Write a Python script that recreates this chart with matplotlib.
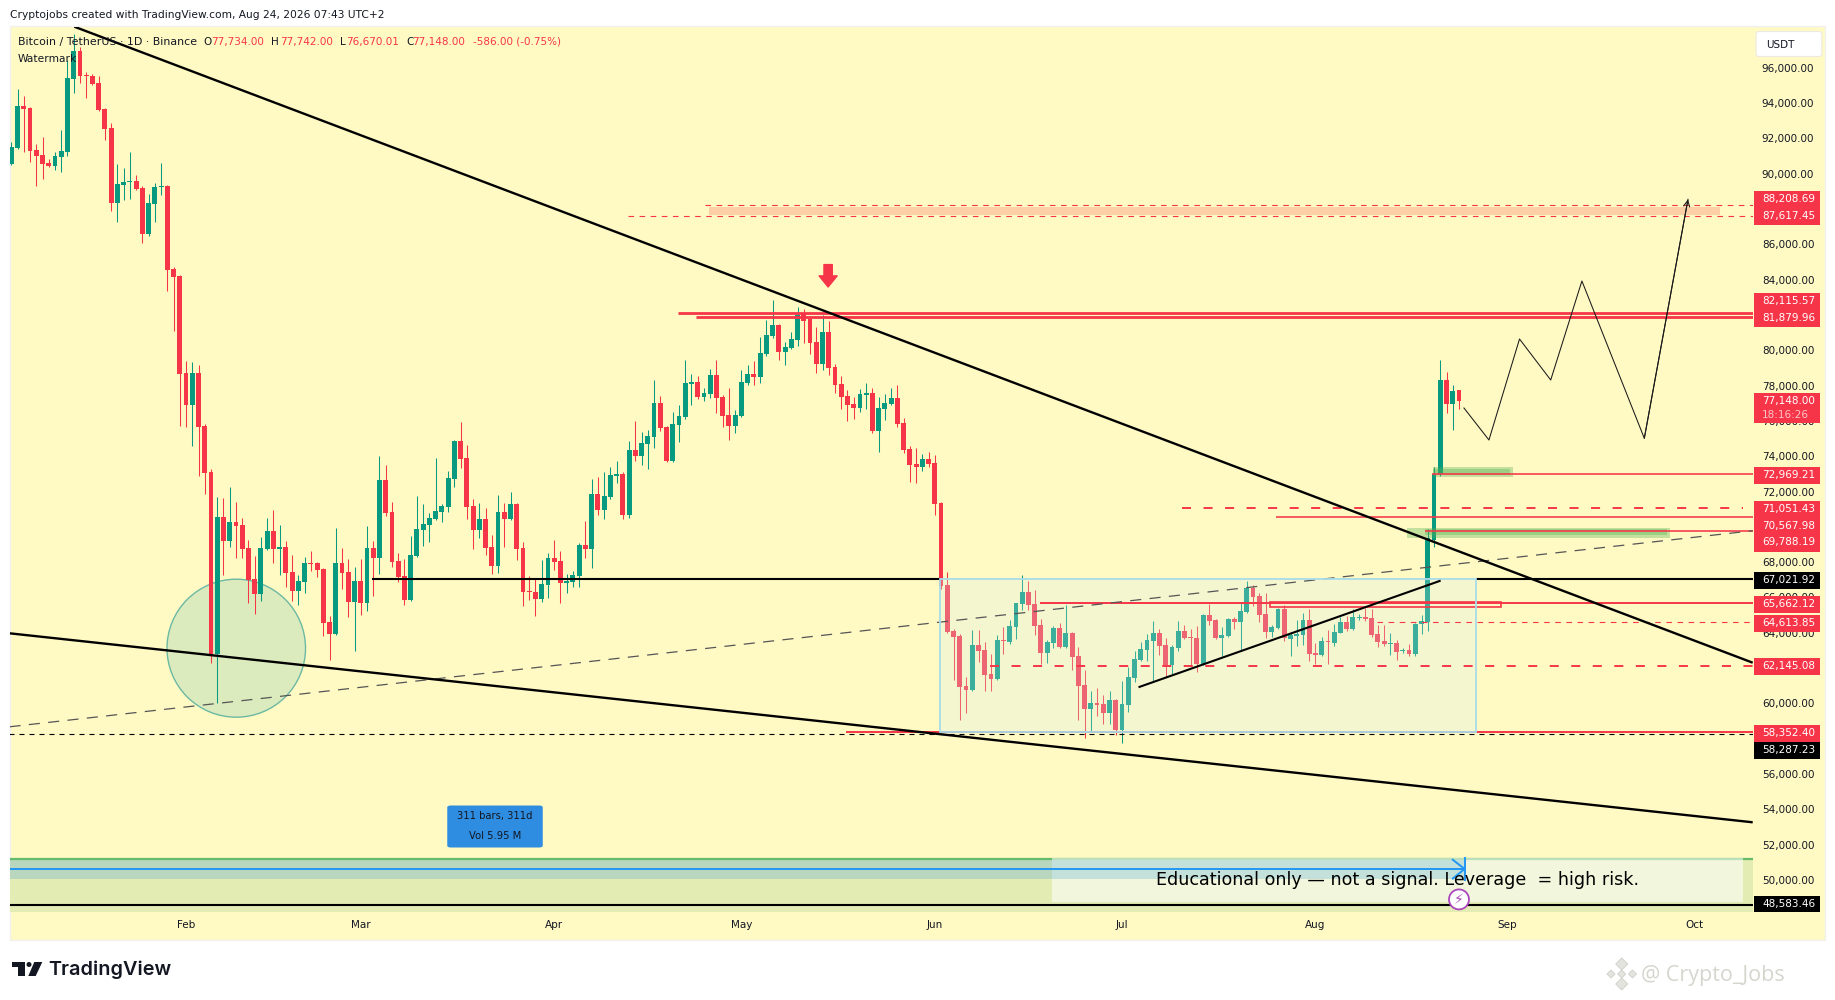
import numpy as np
import matplotlib
matplotlib.use("Agg")
import matplotlib.pyplot as plt
from matplotlib.patches import Rectangle, Ellipse, FancyBboxPatch, Polygon
from matplotlib.collections import LineCollection

# daily candles, day 0 = Jan 1
days = np.arange(3, 236)
opens = [
    90562, 91469, 93829, 93715, 91337, 91054, 90600, 90430, 90940, 91223,
    95358, 96944, 95585, 95528, 95132, 93659, 92583, 88335, 89355, 89524,
    89581, 89185, 86579, 88278, 89241, 89298, 84597, 84200, 78711, 76898,
    78711, 75709, 73104, 62795, 70555, 69195, 70272, 70102, 68799, 67043,
    66193, 68742, 69762, 68742, 68855, 67440, 66364, 66873, 67950, 67950,
    67609, 64608, 63928, 67950, 67440, 65740, 66930, 65684, 68799, 68233,
    72650, 70838, 68063, 67213, 65854, 68346, 69819, 70102, 70441, 70838,
    71121, 72707, 74859, 73896, 71178, 69819, 70441, 68855, 67779, 70838,
    70441, 71291, 68799, 66364, 66307, 65910, 66703, 68233, 68063, 66817,
    66873, 67213, 68969, 68742, 71857, 70951, 71687, 72877, 72989, 70667,
    74348, 74008, 74688, 75084, 77010, 75651, 73725, 75764, 76217, 78086,
    78200, 77350, 77520, 78596, 77350, 76331, 75708, 76274, 78143, 78653,
    78483, 79786, 80805, 81428, 79899, 80125, 80579, 82089, 81768, 80465,
    79219, 81032, 79049, 78086, 77407, 76954, 76727, 77463, 77577, 75424,
    76670, 76954, 77293, 75877, 74405, 73555, 73385, 73838, 73612, 71346,
    66705, 64118, 63816, 60984, 60758, 63307, 63023, 61664, 61381, 63590,
    63477, 64326, 65629, 66309, 65629, 64439, 62853, 63420, 64269, 63193,
    63986, 62683, 61041, 59682, 60021, 59965, 59455, 60191, 58492, 59908,
    61438, 62457, 63023, 63533, 63986, 63307, 62174, 63137, 64099, 63741,
    63703, 62230, 65006, 64723, 63703, 63816, 64779, 64609, 65176, 66554,
    66082, 65063, 64043, 64269, 65346, 63647, 63816, 63873, 64723, 62853,
    62740, 63533, 63420, 63986, 64609, 64213, 64836, 64893, 64836, 63930,
    63533, 63363, 63420, 62967, 63023, 62797, 64496, 64609, 69252, 72990,
    78314, 76955, 77734,
]
highs = [
    91771, 94773, 94395, 93800, 91677, 92073, 90808, 91242, 92469, 96434,
    97888, 97189, 95773, 95641, 95528, 93700, 92866, 90544, 90317, 91223,
    89921, 89298, 88845, 89468, 90600, 89350, 84730, 84238, 79391, 79334,
    79164, 75800, 73273, 71687, 71631, 72254, 71404, 70498, 69252, 68346,
    69422, 70498, 70951, 70102, 69195, 68402, 67270, 68289, 68629, 67990,
    67650, 64947, 69932, 68799, 68176, 67723, 68176, 70045, 69195, 74010,
    73500, 71404, 68516, 68176, 69478, 71744, 71291, 70781, 73896, 71291,
    73160, 74900, 75936, 74633, 71574, 71348, 71064, 69535, 71801, 71348,
    71971, 71350, 69139, 67213, 67100, 68119, 68516, 69252, 68629, 67326,
    67496, 69082, 70328, 72707, 72820, 73104, 73387, 73726, 73102, 74858,
    75991, 75368, 75481, 78313, 77407, 75700, 76500, 76897, 79446, 78653,
    78540, 77860, 78936, 79446, 77463, 77860, 76614, 78880, 79163, 79389,
    80749, 81711, 82844, 81470, 80465, 81032, 82448, 82334, 81900, 81315,
    81995, 81655, 79219, 78540, 77747, 77350, 77803, 78143, 77860, 77350,
    77520, 77860, 78030, 76161, 74575, 74461, 74122, 74235, 74065, 71400,
    67422, 64200, 63930, 61494, 64156, 64156, 63477, 62797, 63873, 64326,
    64723, 65700, 67271, 66932, 66422, 64779, 63590, 64383, 64553, 65572,
    64030, 63175, 61890, 60701, 60871, 60475, 60701, 60248, 61268, 62060,
    62967, 63477, 63930, 64666, 64213, 63703, 63300, 64666, 64439, 64213,
    64383, 65063, 65629, 64780, 64326, 64836, 64893, 65742, 66932, 66705,
    66252, 66252, 64439, 65402, 65572, 64062, 64723, 65119, 65346, 63401,
    63760, 64156, 64496, 64893, 64949, 65346, 65063, 65421, 65346, 64439,
    64439, 63986, 63590, 63137, 63363, 64533, 65006, 69894, 73387, 79447,
    78767, 78031, 77742,
]
lows = [
    90500, 91400, 91223, 90657, 89316, 89694, 90393, 90204, 90090, 90997,
    94565, 95132, 94282, 95018, 93560, 91903, 87882, 87259, 88505, 88562,
    89100, 86069, 86465, 87259, 88788, 83350, 81085, 75709, 75652, 74576,
    72877, 71857, 62285, 60000, 67270, 68856, 68233, 68233, 65684, 65061,
    65797, 68686, 67950, 67270, 66590, 65797, 65571, 66250, 67496, 67156,
    63815, 62455, 63871, 66477, 64891, 62965, 65004, 65231, 66080, 67326,
    70611, 67723, 66873, 65571, 65797, 68300, 68912, 69139, 70385, 70272,
    70838, 72254, 73330, 70441, 68742, 69365, 68400, 67326, 67383, 68856,
    70385, 68119, 65514, 65854, 64947, 65740, 65967, 67553, 65684, 66250,
    66590, 66590, 68233, 67667, 70668, 70441, 71600, 72480, 70440, 70497,
    73725, 73498, 73272, 74461, 75424, 73680, 73669, 74801, 76104, 76897,
    77237, 77124, 77293, 76444, 75651, 74915, 75311, 76230, 78030, 78030,
    78143, 79700, 80692, 79446, 79163, 80069, 80239, 80409, 79786, 78709,
    78879, 78596, 77577, 76670, 75991, 76104, 76501, 76670, 75311, 74235,
    76047, 76897, 75651, 74178, 72536, 72479, 73159, 73385, 70667, 66500,
    64000, 61324, 59059, 59455, 60701, 62344, 60701, 60701, 61340, 62797,
    63363, 63647, 65289, 65289, 63873, 62230, 62287, 63137, 63150, 63150,
    61890, 59059, 58039, 58435, 59285, 58832, 58832, 58209, 57756, 59512,
    61211, 62400, 62400, 61268, 62740, 61494, 61664, 62967, 63650, 62117,
    61777, 62174, 64439, 63650, 62627, 63780, 64213, 63023, 65119, 65516,
    64609, 63703, 63760, 64213, 63533, 62683, 63250, 63307, 62400, 62230,
    62700, 62230, 63250, 63960, 64100, 64156, 64723, 64666, 63760, 63193,
    63250, 62740, 62457, 62853, 62683, 62683, 63930, 64097, 68874, 72900,
    76445, 75482, 76670,
]
closes = [
    91506, 93829, 93659, 91261, 90997, 90544, 90430, 90997, 91280, 95415,
    96944, 95528, 95528, 95075, 93602, 92526, 88335, 89411, 89524, 89581,
    89128, 86579, 88335, 89241, 89298, 84540, 84143, 78673, 76898, 78711,
    75652, 73047, 62795, 70555, 69195, 70272, 70045, 68742, 66986, 66193,
    68799, 69762, 68742, 68855, 67383, 66364, 66930, 67950, 67893, 67553,
    64551, 63928, 67950, 67383, 65740, 66930, 65684, 68799, 68233, 72650,
    70781, 68006, 67156, 65854, 68402, 69875, 70158, 70498, 70894, 71178,
    72764, 74859, 73840, 71121, 69819, 70441, 68799, 67779, 70838, 70441,
    71291, 68742, 66307, 66307, 65910, 66760, 68233, 68006, 66817, 66930,
    67270, 68969, 68742, 71857, 70951, 71744, 72933, 72990, 70667, 74348,
    74008, 74745, 75141, 77010, 75594, 73725, 75821, 76274, 78143, 78200,
    77350, 77577, 78596, 77293, 76274, 75708, 76331, 78200, 78653, 78483,
    79842, 80862, 81428, 79899, 80182, 80635, 81995, 81655, 80409, 79219,
    81032, 78993, 78030, 77350, 76897, 76727, 77520, 77577, 75424, 76727,
    77010, 77293, 75821, 74348, 73499, 73385, 73838, 73555, 71290, 66645,
    64062, 63779, 60947, 60758, 63307, 62967, 61607, 61381, 63590, 63533,
    64383, 65685, 66309, 65572, 64383, 62853, 63477, 64269, 63193, 63986,
    62627, 60984, 59682, 60021, 59908, 59455, 60191, 58492, 59965, 61494,
    62514, 63080, 63590, 63986, 63250, 62174, 63193, 64099, 63703, 63685,
    62230, 65006, 64666, 63703, 63873, 64779, 64609, 65232, 66554, 66025,
    65006, 64043, 64326, 65346, 63703, 63873, 63930, 64723, 62797, 62740,
    63533, 63477, 64043, 64609, 64213, 64893, 64893, 64779, 63873, 63477,
    63363, 63420, 62910, 63023, 62797, 64496, 64666, 69346, 72990, 78314,
    76955, 77691, 77148,
]

month_days = [31, 59, 90, 120, 151, 181, 212, 242.7, 272.7]
month_names = ["Feb", "Mar", "Apr", "May", "Jun", "Jul", "Aug", "Sep", "Oct"]
# ticks fully under a price label are left out
price_ticks = [p for p in range(50000, 98000, 2000) if p not in (58000, 62000, 70000, 82000, 88000)]

# drawings as (day, price)
fall_line = ([13.1, 282.07], [98322, 62305])
low_line = ([2.71, 282.07], [63970, 53267])
rise_dashed = ([2.71, 282.07], [58675, 69780])
small_rise = ([183.8, 231.9], [60935, 66933])
path_days = [235.8, 239.8, 244.7, 249.7, 254.7, 264.7, 271.7]
path_prices = [76729, 74917, 80636, 78315, 83921, 75013, 88548]

# price, start day, line width
red_solid = [(82115.57, 109.8, 2.0), (81879.96, 112.7, 2.0), (72969.21, 230.6, 1.15),
             (70567.98, 205.6, 1.15), (69788.19, 229.5, 1.15), (65662.12, 167.8, 1.4),
             (58352.40, 136.8, 1.4)]
red_dash_thick = [(71051.43, 190.6, 280.5), (62145.08, 159.9, 282.07)]
red_dash_thin = [(88208.69, 114.1), (87617.45, 101.9), (64613.85, 221.9)]

# price axis labels
label_boxes = [("#f63648", 191, 225), ("#f63648", 292.7, 326.7), ("#f63648", 393.3, 423.3),
               ("#f63648", 467.3, 483.7), ("#f63648", 501, 551.7), ("black", 572, 588.7),
               ("#f63648", 596, 612.7), ("#f63648", 615.3, 631.7), ("#f63648", 658, 674.7),
               ("#f63648", 725, 742), ("black", 742, 759), ("black", 896, 912)]
label_texts = [("88,208.69", 199), ("87,617.45", 216), ("82,115.57", 300.7), ("81,879.96", 317.7),
               ("77,148.00", 400.7), ("72,969.21", 475), ("71,051.43", 509), ("70,567.98", 525.7),
               ("69,788.19", 542.3), ("67,021.92", 579.7), ("65,662.12", 603.7), ("64,613.85", 623),
               ("62,145.08", 665.7), ("58,352.40", 732.7), ("58,287.23", 749.7), ("48,583.46", 904)]

RED = "#f63648"
GREEN = "#089981"
BG = "#fff9c4"
INK = "#131722"
RIGHT = 282.07

plt.rcParams["font.family"] = "DejaVu Sans"
plt.rcParams["lines.scale_dashes"] = False


def fx(x):
    return x / 1835


def fy(y):
    return 1 - y / 1000


fig = plt.figure(figsize=(18.35, 10), dpi=100, facecolor="white")
fig.patches.append(Rectangle((fx(9.5), fy(940)), fx(1815.5), 914 / 1000, transform=fig.transFigure,
                             facecolor=BG, edgecolor="#f0f0ee", lw=1, zorder=-5))

ax = fig.add_axes([fx(9.5), fy(912), fx(1743.2), (912 - 26.7) / 1000], zorder=1)
ax.patch.set_alpha(0)
ax.set_xlim(2.71, RIGHT)
ax.set_ylim(48187, 98322)
for s in ax.spines.values():
    s.set_visible(False)

ax.yaxis.tick_right()
ax.set_yticks(price_ticks)
ax.set_yticklabels([f"{p:,.2f}" for p in price_ticks], fontsize=7.5, color=INK)
ax.tick_params(axis="y", length=0, pad=6.6)
ax.set_xticks(month_days)
ax.set_xticklabels(month_names, fontsize=7.5, color=INK)
ax.tick_params(axis="x", length=0, pad=6)

# bottom bands, under the candles
ax.add_patch(Rectangle((2.71, 48187), RIGHT - 2.71, 51189 - 48187, facecolor="#e2ecb3", edgecolor="none", zorder=1))
ax.add_patch(Rectangle((2.71, 50057), 235.9 - 2.71, 51189 - 50057, facecolor="#b8d7be", edgecolor="none", zorder=1.1))
ax.plot([2.71, RIGHT], [51189, 51189], color="#66bb6a", lw=1.6, zorder=1.2, solid_capstyle="butt")
ax.add_patch(Rectangle((169.8, 48771), 280.5 - 169.8, 51250 - 48771, facecolor="white", alpha=0.55,
                       edgecolor="none", zorder=1.3))
ax.add_patch(Rectangle((169.8, 50057), 235.9 - 169.8, 51150 - 50057, facecolor="#c3e0da", edgecolor="none", zorder=1.35))
ax.plot([2.71, 235.9], [50623, 50623], color="#2196f3", lw=1.4, zorder=1.4, solid_capstyle="butt")
ax.plot([234, 235.9, 234], [51150, 50623, 50080], color="#2196f3", lw=1.4, zorder=1.4)
ax.plot([235.9, 235.9], [51250, 50020], color="#2196f3", lw=1.4, zorder=1.4)
ax.plot([2.71, RIGHT], [48583.46, 48583.46], color="black", lw=1.5, zorder=1.5, solid_capstyle="butt")

ax.add_patch(Ellipse((39.05, 63126), 22.2, 7815, facecolor="#dcebbd", edgecolor="#6cb9a3", lw=1.0, zorder=1.6))

# candles
opens_a, highs_a, lows_a, closes_a = map(np.array, (opens, highs, lows, closes))
candle_cols = np.where(closes_a >= opens_a, GREEN, RED)
ax.add_collection(LineCollection([[(d, l), (d, h)] for d, l, h in zip(days, lows_a, highs_a)],
                                 colors=candle_cols, linewidths=0.75, zorder=3))
ax.bar(days, np.abs(closes_a - opens_a), bottom=np.minimum(opens_a, closes_a), width=0.78,
       color=candle_cols, linewidth=0, zorder=3.1)

# range box sits over the candles
ax.add_patch(Rectangle((151.8, 58360), 237.7 - 151.8, 67021.92 - 58360, facecolor="#d5f0f0", alpha=0.25,
                       edgecolor="none", zorder=4))
ax.add_patch(Rectangle((151.8, 58360), 237.7 - 151.8, 67021.92 - 58360, facecolor="none", edgecolor="#a8dcea",
                       lw=1.3, zorder=5.25))

# green and peach zones
ax.add_patch(Rectangle((114.8, 87680), 276.8 - 114.8, 420, facecolor="#fccfa6", edgecolor="none", zorder=4.2))
for x0, x1, p0, p1 in [(230.8, 243.7, 72840, 73405), (230.8, 243.2, 72960, 73270),
                       (226.7, 268.8, 69385, 69917), (229.5, 268.4, 69520, 69850)]:
    ax.add_patch(Rectangle((x0, p0), x1 - x0, p1 - p0, facecolor="#4caf50", alpha=0.33, edgecolor="none", zorder=4.3))
ax.add_patch(Rectangle((204.7, 65432), 241.8 - 204.7, 306, facecolor="none", edgecolor=RED, lw=1.2, zorder=5))

# levels
for price, start, width in red_solid:
    ax.plot([start, RIGHT], [price, price], color=RED, lw=width, zorder=5, solid_capstyle="butt")
for price, start, stop in red_dash_thick:
    ax.plot([start, stop], [price, price], color=RED, lw=1.4, ls=(0, (6.5, 9)), zorder=5)
for price, start in red_dash_thin:
    ax.plot([start, RIGHT], [price, price], color=RED, lw=0.8, ls=(0, (4, 4)), zorder=5)

# the 67k level is broken by the range box
ax.plot([60.8, 151.8], [67021.92, 67021.92], color="black", lw=1.5, zorder=5.2, solid_capstyle="butt")
ax.plot([237.7, RIGHT], [67021.92, 67021.92], color="black", lw=1.5, zorder=5.2, solid_capstyle="butt")
ax.plot([2.71, RIGHT], [58287.23, 58287.23], color="black", lw=0.8, ls=(0, (3.6, 3.6)), zorder=5.1)
ax.plot(*rise_dashed, color="#555555", lw=0.9, ls=(0, (8, 6)), zorder=5.1)
ax.plot(*fall_line, color="black", lw=1.7, zorder=5.3, solid_capstyle="butt")
ax.plot(*low_line, color="black", lw=1.7, zorder=5.3, solid_capstyle="butt")
ax.plot(*small_rise, color="black", lw=1.5, zorder=5.3)

# hand drawn path and its arrow head
ax.plot(path_days, path_prices, color="#1a1a1a", lw=0.75, zorder=5.4)
ax.annotate("", xy=(path_days[-1], path_prices[-1]), xytext=(path_days[-2], path_prices[-2]),
            arrowprops=dict(arrowstyle="->", color="#1a1a1a", lw=0.75, mutation_scale=11, shrinkA=0, shrinkB=0), zorder=5.4)

# red marker above the top
ax.annotate("", xy=(133.9, 83581), xytext=(133.9, 84850),
            arrowprops=dict(facecolor=RED, edgecolor=RED, width=6, headwidth=13, headlength=8, shrink=0), zorder=6)

ax.text(169.8 + (1156 - 1052) / 6.24, 50000, "Educational only — not a signal. Leverage  = high risk.", fontsize=12.65,
        color="black", va="center", ha="left", zorder=7)

# lightning badge on the time axis
ax.add_patch(Ellipse((235.0, 48900), 3.2, 1130, facecolor="white", edgecolor="#ab47bc", lw=1.3, zorder=7))
ax.text(235.0, 48880, "⚡", fontsize=10, color="#ab47bc", ha="center", va="center", zorder=7.1)

# measure tool box
fig.patches.append(FancyBboxPatch((fx(450), fy(846)), fx(90), 39 / 1000, transform=fig.transFigure,
                                  boxstyle="round,pad=0.0015,rounding_size=0.002", mutation_aspect=1,
                                  facecolor="#2e8de0", edgecolor="none", zorder=4))
fig.text(fx(495), fy(816), "311 bars, 311d", fontsize=7.2, color=INK, ha="center", va="center", zorder=5)
fig.text(fx(495), fy(836), "Vol 5.95 M", fontsize=7.2, color=INK, ha="center", va="center", zorder=5)

# price labels on the axis
for col, top, bottom in label_boxes:
    fig.patches.append(Rectangle((fx(1754), fy(bottom)), fx(66), (bottom - top) / 1000, transform=fig.transFigure,
                                 facecolor=col, edgecolor="none", zorder=5))
for txt, yc in label_texts:
    fig.text(fx(1762), fy(yc), txt, fontsize=7.5, color="white", va="center", ha="left", zorder=6)
fig.text(fx(1762), fy(415), "18:16:26", fontsize=7.5, color="#fbc4c9", va="center", ha="left", zorder=6)

# USDT button
fig.patches.append(FancyBboxPatch((fx(1758), fy(55.5)), fx(62), 23 / 1000, transform=fig.transFigure,
                                  boxstyle="round,pad=0.001,rounding_size=0.002", facecolor="white",
                                  edgecolor="#eceae0", lw=0.8, zorder=5))
fig.text(fx(1766), fy(44.7), "USDT", fontsize=7.5, color=INK, va="center", ha="left", zorder=6)

# header and legend
fig.text(fx(10), fy(15), "Cryptojobs created with TradingView.com, Aug 24, 2026 07:43 UTC+2", fontsize=7.7,
         color=INK, va="center", ha="left")
fig.text(fx(18), fy(41.7), "Bitcoin / TetherUS · 1D · Binance", fontsize=7.9, color=INK, va="center", ha="left", zorder=6)
fig.text(fx(18), fy(59), "Watermark", fontsize=7.7, color=INK, va="center", ha="left", zorder=6)
for xp, txt, col in [(203.6, "O", INK), (211.5, "77,734.00", RED), (271.5, "H", INK), (280, "77,742.00", RED),
                     (339.5, "L", INK), (346, "76,670.01", RED), (406, "C", INK), (412.6, "77,148.00", RED),
                     (473, "-586.00 (-0.75%)", RED)]:
    fig.text(fx(xp), fy(41.7), txt, fontsize=7.5, color=col, va="center", ha="left", zorder=6)

# TradingView logo
logo_parts = [[(12.3, 962), (25, 962), (25, 976), (17.7, 976), (17.7, 967), (12.3, 967)],
              [(34.3, 962), (42.3, 962), (35.7, 976), (28.3, 976)]]
for pts in logo_parts:
    fig.patches.append(Polygon([(fx(x), fy(y)) for x, y in pts], transform=fig.transFigure, facecolor="#131722",
                               edgecolor="none", zorder=5))
fig.patches.append(Ellipse((fx(29), fy(964.5)), 5 / 1835, 5 / 1000, transform=fig.transFigure, facecolor="#131722",
                           edgecolor="none", zorder=5))
fig.text(fx(48), fy(969.5), "TradingView", family="Inter", fontweight="semibold", fontsize=14.3, color="#131722",
         va="center", ha="left")

# author watermark
for cx, cy, r in [(1621.7, 964, 6), (1621.7, 984, 6), (1611, 974, 4), (1632.5, 974, 4), (1621.7, 974, 4)]:
    fig.patches.append(Polygon([(fx(cx), fy(cy - r)), (fx(cx + r), fy(cy)), (fx(cx), fy(cy + r)), (fx(cx - r), fy(cy))],
                               transform=fig.transFigure, facecolor="#e4e4de", edgecolor="#cfcfc8", lw=0.6, zorder=5))
fig.text(fx(1641), fy(975), "@ Crypto_Jobs", family="Open Sans", fontsize=15.5, color="#d6d6cf", va="center", ha="left")

fig.savefig("out.png", dpi=100, facecolor="white")
